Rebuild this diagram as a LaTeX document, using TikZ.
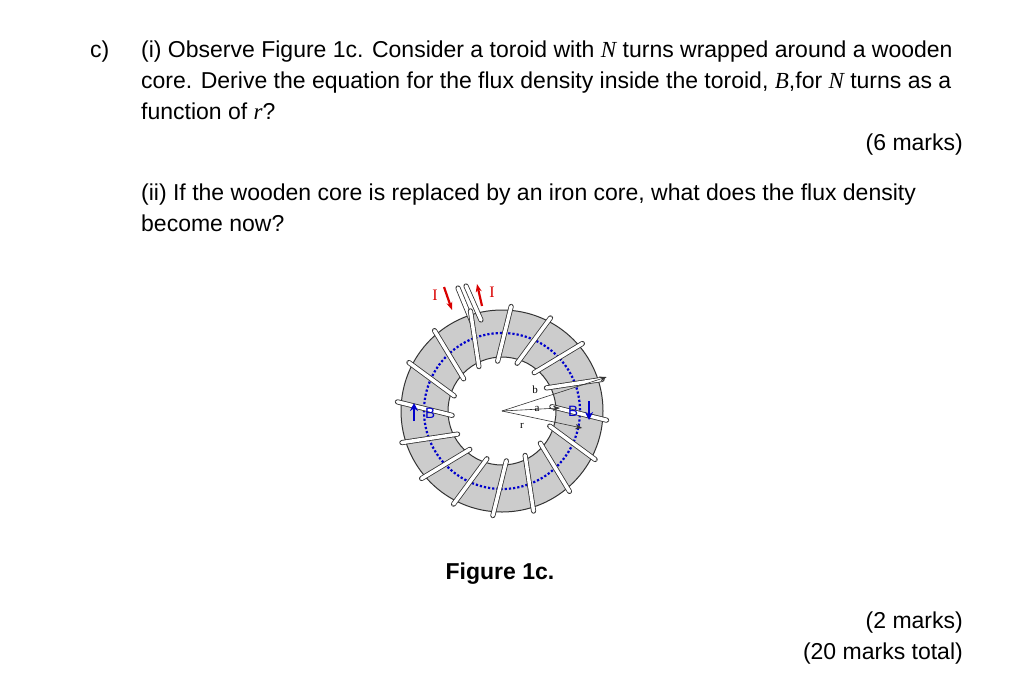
\documentclass[tikz,border=0pt]{standalone}
\usepackage{fontspec}
\setmainfont{Liberation Sans}
\newfontfamily\serifm{Liberation Serif}
\usetikzlibrary{arrows.meta,calc}
\newcommand{\mv}[1]{{\serifm\itshape #1}}
\tikzset{txt/.style={anchor=base west,inner sep=0,font=\fontsize{23}{26}\selectfont},
 rtxt/.style={anchor=base east,inner sep=0,font=\fontsize{23}{26}\selectfont},
 coil/.style={draw=black!80,double=white,double distance=3.5pt,line width=0.8pt,line cap=round},
 rad/.style={-{Stealth[length=7pt]},line width=0.6pt,draw=black!80},
 barr/.style={-{Stealth[length=8pt,width=8pt]},line width=2.2pt,blue!80!black}}
\begin{document}
\begin{tikzpicture}[x=1pt,y=-1pt]
\useasboundingbox (0,0) rectangle (1024,689);
\node[txt] (c) at (90,57) {c)};
\node[txt] (l1) at (141,57) {(i) Observe Figure 1c. Consider a toroid with \mv{N} turns wrapped around a wooden};
\node[txt] (l2) at (141,88) {core. Derive the equation for the flux density inside the toroid, \mv{B},for \mv{N} turns as a};
\node[txt] (l3) at (141,119) {function of \mv{r}?};
\node[rtxt] (m1) at (963,150) {(6 marks)};
\node[txt] (l4) at (141,200) {(ii) If the wooden core is replaced by an iron core, what does the flux density};
\node[txt] (l5) at (141,231) {become now?};
\node[anchor=base,inner sep=0,font=\fontsize{23}{26}\selectfont\bfseries] (fig) at (500,579) {Figure 1c.};
\node[rtxt] (m2) at (963,628) {(2 marks)};
\node[rtxt] (m3) at (963,659) {(20 marks total)};
% toroid
\coordinate (O) at (502,411);
\fill[gray!40,even odd rule,draw=black!80,line width=1pt] (O) circle (101) (O) circle (54);
\draw[blue!80!black,line width=2.2pt,dotted] (O) circle (78);
% leads
\draw[coil] (458,288) -- (472,322);
\draw[coil] (466,286) -- (481,320);
% coils
\foreach \a in {0,22.5,...,337.5}{
  \draw[coil] ($(O)+(\a-5:50)$) -- ($(O)+(\a+5:105)$);
}
% radii
\draw[rad] (O) -- ($(O)+(-18:110)$);
\draw[rad] (O) -- ($(O)+(-3:58)$);
\draw[rad] (O) -- ($(O)+(12:82)$);
\node[font=\serifm\fontsize{11}{12}\selectfont] (b) at (535,390) {b};
\node[font=\serifm\fontsize{11}{12}\selectfont] (aa) at (537,409) {a};
\node[font=\serifm\fontsize{11}{12}\selectfont] (r) at (522,426) {r};
% B arrows
\draw[barr] (414,421) -- (414,403);
\node[blue!80!black,font=\fontsize{15}{16}\selectfont] (B1) at (430,413) {B};
\draw[barr] (589,401) -- (589,420);
\node[blue!80!black,font=\fontsize{15}{16}\selectfont] (B2) at (573,411) {B};
% I arrows
\draw[red!85!black,-{Stealth[length=8pt]},line width=2.2pt] (444,287) -- (452,310);
\node[red!85!black,font=\serifm\fontsize{16}{17}\selectfont] (I1) at (435,295) {I};
\draw[red!85!black,-{Stealth[length=8pt]},line width=2.2pt] (482,306) -- (477,284);
\node[red!85!black,font=\serifm\fontsize{16}{17}\selectfont] (I2) at (492,292) {I};
\end{tikzpicture}
\end{document}
